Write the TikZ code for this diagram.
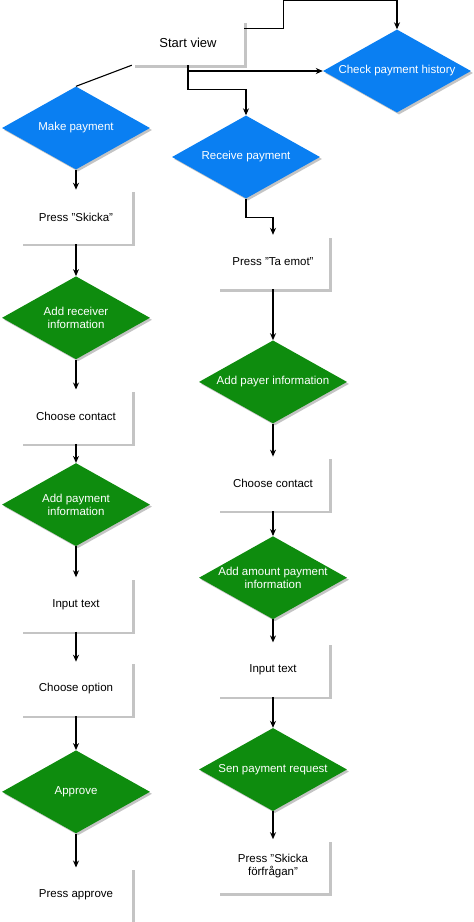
\documentclass[tikz,border=0pt]{standalone}
\usepackage{fontspec}
\setmainfont{Liberation Sans}
\definecolor{payBlue}{HTML}{0A7FF2}
\definecolor{payGreen}{HTML}{0E8C0E}
\definecolor{shadowGray}{HTML}{C4C4C4}
\usetikzlibrary{arrows.meta,positioning,shapes.geometric,shadows}

\begin{document}
\begin{tikzpicture}[x=1pt, y=-1pt,
  node distance=30pt,
  stepbox/.style={fill=white, minimum width=112pt, minimum height=54pt,
              font=\fontsize{11.5}{13}\selectfont, align=center, inner sep=2pt,
              drop shadow={shadow xshift=2.5pt, shadow yshift=-2.5pt,
                           fill=shadowGray, opacity=1}},
  dec/.style={diamond, aspect=1.78, minimum width=148pt, minimum height=83pt,
              inner sep=-5pt, text=white, align=center,
              font=\fontsize{11.5}{13}\selectfont,
              drop shadow={shadow xshift=2pt, shadow yshift=-2pt,
                           fill=shadowGray, opacity=1}},
  mainDec/.style={dec, fill=payBlue},
  infoDec/.style={dec, fill=payGreen},
  arr/.style={-{Stealth[length=7pt,width=6pt]}, black, line width=1.1pt}
]
\useasboundingbox (0,0) rectangle (474,922);

% start and the three choices
\node[stepbox, minimum height=45pt, font=\fontsize{13}{15}\selectfont] (start) at (188,42.5) {Start view};
\node[mainDec] (check) at (397,71)  {Check payment history};
\node[mainDec] (make)  at (76,128)  {Make payment};
\node[mainDec] (recv)  at (246,157) {Receive payment};

% make payment
\node[stepbox, below=20pt of make]     (skicka)   {Press \symbol{34}Skicka\symbol{34}};
\node[infoDec, below=32pt of skicka]   (addRecv)  {Add receiver\\information};
\node[stepbox, below=30pt of addRecv]  (contact)  {Choose contact};
\node[infoDec, below=19pt of contact]  (addPay)   {Add payment\\information};
\node[stepbox, below=31pt of addPay]   (input)    {Input text};
\node[stepbox, below=30pt of input]    (option)   {Choose option};
\node[infoDec, below=34pt of option]   (approve)  {Approve};
\node[stepbox, below=34pt of approve]  (pressApp) {Press approve};

% receive payment
\node[stepbox] (taEmot) at (273,262) {Press \symbol{34}Ta emot\symbol{34}};
\node[infoDec, below=51pt of taEmot]    (addPayer)  {Add payer information};
\node[stepbox, below=33pt of addPayer]  (contactR)  {Choose contact};
\node[infoDec, below=25pt of contactR]  (addAmount) {Add amount payment\\information};
\node[stepbox, below=23pt of addAmount] (inputR)    {Input text};
\node[infoDec, below=31pt of inputR]    (sendReq)   {Sen payment request};
\node[stepbox, below=28pt of sendReq]   (forfragan) {Press \symbol{34}Skicka\\förfrågan\symbol{34}};

\draw[line width=1.1pt] (start.south west) -- (make.north);
\draw[arr] (start.south) -- ++(0,24) -| (recv.north);
\draw[arr] (start.south |- check.west) -- (check.west);
\draw[arr] ([yshift=-9pt]start.north east) -- ++(39,0) |- ([yshift=29pt]check.north) -- (check.north);

\draw[arr] (make.south)    -- (skicka.north);
\draw[arr] (skicka.south)  -- (addRecv.north);
\draw[arr] (addRecv.south) -- (contact.north);
\draw[arr] (contact.south) -- (addPay.north);
\draw[arr] (addPay.south)  -- (input.north);
\draw[arr] (input.south)   -- (option.north);
\draw[arr] (option.south)  -- (approve.north);
\draw[arr] (approve.south) -- (pressApp.north);

\draw[arr] (recv.south) -- ++(0,19) -| (taEmot.north);
\draw[arr] (taEmot.south)    -- (addPayer.north);
\draw[arr] (addPayer.south)  -- (contactR.north);
\draw[arr] (contactR.south)  -- (addAmount.north);
\draw[arr] (addAmount.south) -- (inputR.north);
\draw[arr] (inputR.south)    -- (sendReq.north);
\draw[arr] (sendReq.south)   -- (forfragan.north);
\end{tikzpicture}
\end{document}
